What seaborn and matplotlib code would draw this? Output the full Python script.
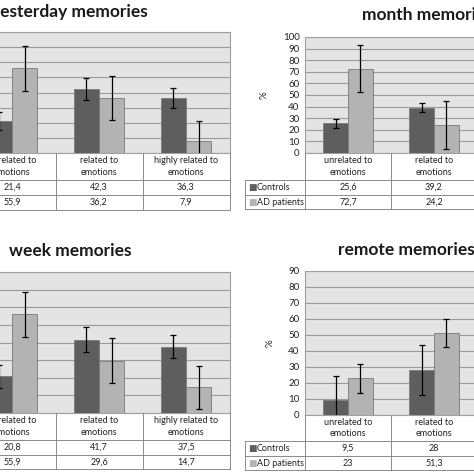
import matplotlib
matplotlib.use("Agg")
import matplotlib.pyplot as plt
import seaborn as sns
import pandas as pd
import numpy as np

sns.set_theme(style="white")
plt.rcParams['font.family'] = ['Lato', 'DejaVu Sans']

cats3 = ["unrelated to\nemotions", "related to\nemotions", "highly related to\nemotions"]
cats2 = cats3[:2]
groups = ["Controls", "AD patients"]

yest_ctrl = [21.4, 42.3, 36.3]; yest_ad = [55.9, 36.2, 7.9]
yest_ctrl_err = [6, 7, 6.5]; yest_ad_err = [15, 14.5, 13.5]
week_ctrl = [20.8, 41.7, 37.5]; week_ad = [55.9, 29.6, 14.7]
week_ctrl_err = [6.6, 7, 6.5]; week_ad_err = [12.7, 12.7, 12.2]
month_ctrl = [25.6, 39.2]; month_ad = [72.7, 24.2]
month_ctrl_err = [4, 4]; month_ad_err = [20.5, 21]
remote_ctrl = [9.5, 28]; remote_ad = [23, 51.3]
remote_ctrl_err = [15, 15.5]; remote_ad_err = [9, 9]

fmt = lambda v: (f"{v:g}").replace(".", ",")
DARK, LIGHT = "#5e5e5e", "#b3b3b3"
W = H = 474.0
fig = plt.figure(figsize=(4.74, 4.74), dpi=100)

def px(l, t, r, b):
    return [l / W, 1 - b / H, (r - l) / W, (b - t) / H]

def panel(rect, title, title_xy, cats, ctrl, ad, ce, ae, ymax, step, show_y, rows_px):
    l, t, r, b = rect
    ax = fig.add_axes(px(l, t, r, b))
    df = pd.DataFrame({"cat": cats * 2, "grp": [groups[0]] * len(cats) + [groups[1]] * len(cats),
                       "val": list(ctrl) + list(ad)})
    sns.barplot(data=df, x="cat", y="val", hue="grp", palette=[DARK, LIGHT], ax=ax,
                width=0.58, edgecolor="#7a7a7a", linewidth=0.6, legend=False, zorder=3)
    errs = list(ce) + list(ae)
    bars = [p for p in ax.patches if p.get_height() > 0][:len(errs)]
    bars = sorted(bars, key=lambda p: (p.get_facecolor()[0] > 0.5, p.get_x()))
    for p, e in zip(bars, errs):
        ax.errorbar(p.get_x() + p.get_width() / 2, p.get_height(), yerr=e, fmt="none",
                    ecolor="black", elinewidth=0.9, capsize=2.5, capthick=0.9, zorder=4)
    ax.set_facecolor("#e4e4e4")
    ax.set_ylim(0, ymax)
    ax.set_xlim(-0.5, len(cats) - 0.5)
    ax.set_yticks(np.arange(0, ymax + 1, step))
    ax.yaxis.grid(True, color="#9a9a9a", lw=0.8, zorder=0)
    ax.set_axisbelow(True)
    ax.set_xticks([]); ax.set_xlabel(""); ax.set_ylabel("")
    for s in ax.spines.values():
        s.set_color("#a0a0a0"); s.set_linewidth(0.8)
    if show_y:
        ax.tick_params(axis="y", labelsize=7, length=0, pad=4, colors="#222222")
        ax.set_ylabel("%", fontsize=7, labelpad=10, color="#222222")
    else:
        ax.set_yticklabels([])
        ax.tick_params(axis="y", length=0)
    fig.text(title_xy[0] / W, 1 - title_xy[1] / H, title, fontsize=12.5, fontweight="bold",
             ha="left", va="center", color="#1a1a1a")
    y0, y1, y2, y3 = rows_px
    n = len(cats)
    tr = fig.transFigure
    lc = "#8a8a8a"
    xs = [l + (r - l) * i / n for i in range(n + 1)]
    hx = l - 60
    for yy in (y1, y2, y3):
        fig.add_artist(plt.Line2D([hx / W, r / W], [1 - yy / H] * 2, color=lc, lw=0.7, transform=tr))
    for x in xs:
        fig.add_artist(plt.Line2D([x / W] * 2, [1 - y0 / H, 1 - y3 / H], color=lc, lw=0.7, transform=tr))
    fig.add_artist(plt.Line2D([hx / W] * 2, [1 - y1 / H, 1 - y3 / H], color=lc, lw=0.7, transform=tr))
    for i, c in enumerate(cats):
        cx = (xs[i] + xs[i + 1]) / 2 / W
        fig.text(cx, 1 - (y0 + y1) / 2 / H, c, fontsize=6.5, ha="center", va="center",
                 color="#222222", linespacing=1.3)
        fig.text(cx, 1 - (y1 + y2) / 2 / H, fmt(ctrl[i]), fontsize=6.5, ha="center", va="center", color="#222222")
        fig.text(cx, 1 - (y2 + y3) / 2 / H, fmt(ad[i]), fontsize=6.5, ha="center", va="center", color="#222222")
    for yy, g, col in ((y1, groups[0], DARK), (y2, groups[1], LIGHT)):
        fig.text((hx + 3) / W, 1 - (yy + 7.5) / H, "■", fontsize=6.5, color=col, ha="left", va="center",
                 family=["DejaVu Sans"])
        fig.text((hx + 12) / W, 1 - (yy + 7.5) / H, g, fontsize=6.5, ha="left", va="center", color="#222222")
    return ax

panel((-31.5, 32, 229.5, 153), "yesterday memories", (-9, 12), cats3, yest_ctrl, yest_ad,
      yest_ctrl_err, yest_ad_err, 80, 10, False, (153, 180, 195, 210))
panel((-31.5, 272, 229.5, 413), "week memories", (9, 251), cats3, week_ctrl, week_ad,
      week_ctrl_err, week_ad_err, 80, 10, False, (413, 440, 455, 469))
panel((305, 37, 477, 153), "month memories", (362, 15), cats2, month_ctrl, month_ad,
      month_ctrl_err, month_ad_err, 100, 10, True, (153, 180, 195, 209))
panel((305, 271, 477, 415), "remote memories", (338, 250), cats2, remote_ctrl, remote_ad,
      remote_ctrl_err, remote_ad_err, 90, 10, True, (415, 441, 456, 470))

fig.savefig("out.png", dpi=100, facecolor="white")
